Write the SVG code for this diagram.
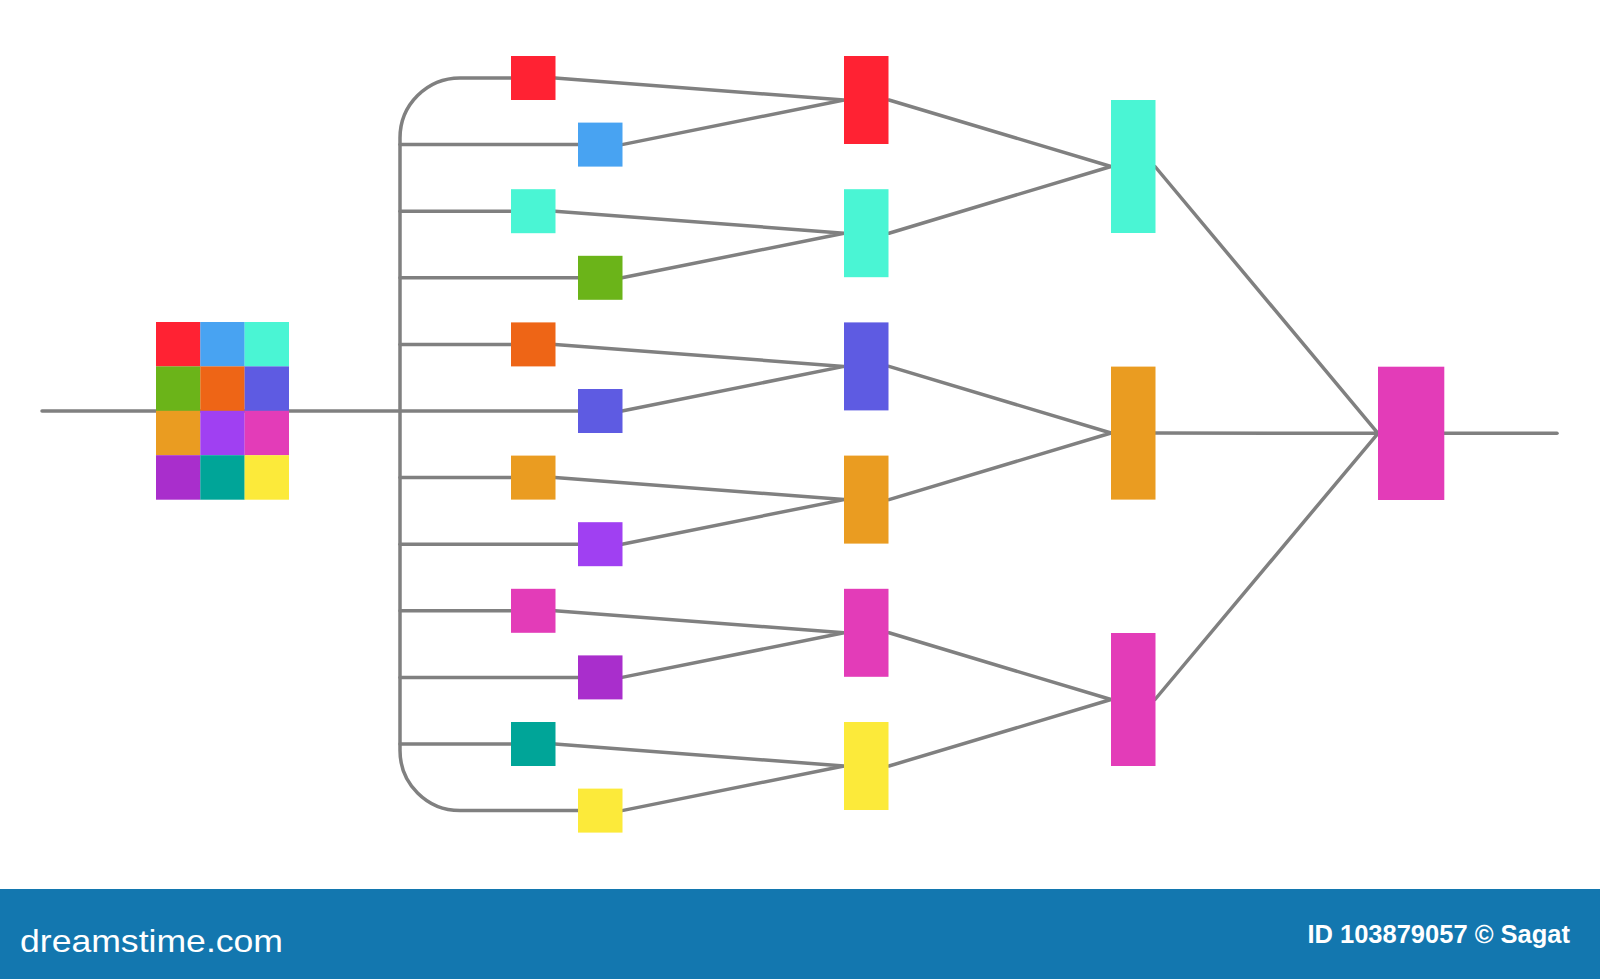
<svg xmlns="http://www.w3.org/2000/svg" width="1600" height="979" viewBox="0 0 1600 979">
<style>
.c{stroke:#808080;stroke-width:3.5;fill:none;stroke-linecap:round}
.red{fill:#FF2233}.blu{fill:#48A3F2}.cyn{fill:#4AF5D4}.grn{fill:#6BB419}.org{fill:#EE6516}.ind{fill:#5E5BE2}
.amb{fill:#EA9C21}.pur{fill:#A040F2}.mag{fill:#E33CB8}.vio{fill:#A92ECC}.tea{fill:#00A598}.yel{fill:#FCEA3A}
.ft{font-family:"Liberation Sans",Arial,sans-serif;fill:#fff}
</style>
<rect width="1600" height="979" fill="#fff"/>
<g id="connectors" class="c">
<line x1="42" y1="411" x2="578" y2="411"/>
<path d="M511 78 H460 A60 60 0 0 0 400 138 V750.6 A60 60 0 0 0 460 810.6 H578"/>
<line x1="400" y1="144.6" x2="578" y2="144.6"/>
<line x1="400" y1="211.2" x2="511" y2="211.2"/>
<line x1="400" y1="277.8" x2="578" y2="277.8"/>
<line x1="400" y1="344.4" x2="511" y2="344.4"/>
<line x1="400" y1="477.6" x2="511" y2="477.6"/>
<line x1="400" y1="544.2" x2="578" y2="544.2"/>
<line x1="400" y1="610.8" x2="511" y2="610.8"/>
<line x1="400" y1="677.4" x2="578" y2="677.4"/>
<line x1="400" y1="744" x2="511" y2="744"/>
<path d="M555 78 L844 100 M622 144.6 L844 100"/>
<path d="M555 211.2 L844 233.2 M622 277.8 L844 233.2"/>
<path d="M555 344.4 L844 366.4 M622 411 L844 366.4"/>
<path d="M555 477.6 L844 499.6 M622 544.2 L844 499.6"/>
<path d="M555 610.8 L844 632.8 M622 677.4 L844 632.8"/>
<path d="M555 744 L844 766 M622 810.6 L844 766"/>
<path d="M889 100 L1111 166.5 M889 233.2 L1111 166.5"/>
<path d="M889 366.4 L1111 433 M889 499.6 L1111 433"/>
<path d="M889 632.8 L1111 699.5 M889 766 L1111 699.5"/>
<path d="M1155 166.5 L1378 433.3 M1155 433 L1378 433.3 M1155 699.5 L1378 433.3"/>
<line x1="1444" y1="433.3" x2="1557" y2="433.3"/>
</g>
<g id="input-grid">
<rect class="red" x="156" y="322" width="44.4" height="44.5"/>
<rect class="blu" x="200.3" y="322" width="44.4" height="44.5"/>
<rect class="cyn" x="244.6" y="322" width="44.4" height="44.5"/>
<rect class="grn" x="156" y="366.4" width="44.4" height="44.5"/>
<rect class="org" x="200.3" y="366.4" width="44.4" height="44.5"/>
<rect class="ind" x="244.6" y="366.4" width="44.4" height="44.5"/>
<rect class="amb" x="156" y="410.8" width="44.4" height="44.5"/>
<rect class="pur" x="200.3" y="410.8" width="44.4" height="44.5"/>
<rect class="mag" x="244.6" y="410.8" width="44.4" height="44.5"/>
<rect class="vio" x="156" y="455.2" width="44.4" height="44.5"/>
<rect class="tea" x="200.3" y="455.2" width="44.4" height="44.5"/>
<rect class="yel" x="244.6" y="455.2" width="44.4" height="44.5"/>
</g>
<g id="s0"><rect class="red" x="511" y="56" width="44.5" height="44"/></g>
<g id="s1"><rect class="blu" x="578" y="122.6" width="44.5" height="44"/></g>
<g id="s2"><rect class="cyn" x="511" y="189.2" width="44.5" height="44"/></g>
<g id="s3"><rect class="grn" x="578" y="255.8" width="44.5" height="44"/></g>
<g id="s4"><rect class="org" x="511" y="322.4" width="44.5" height="44"/></g>
<g id="s5"><rect class="ind" x="578" y="389" width="44.5" height="44"/></g>
<g id="s6"><rect class="amb" x="511" y="455.6" width="44.5" height="44"/></g>
<g id="s7"><rect class="pur" x="578" y="522.2" width="44.5" height="44"/></g>
<g id="s8"><rect class="mag" x="511" y="588.8" width="44.5" height="44"/></g>
<g id="s9"><rect class="vio" x="578" y="655.4" width="44.5" height="44"/></g>
<g id="s10"><rect class="tea" x="511" y="722" width="44.5" height="44"/></g>
<g id="s11"><rect class="yel" x="578" y="788.6" width="44.5" height="44"/></g>
<g id="m0"><rect class="red" x="844" y="56" width="44.5" height="88"/></g>
<g id="m1"><rect class="cyn" x="844" y="189.2" width="44.5" height="88"/></g>
<g id="m2"><rect class="ind" x="844" y="322.4" width="44.5" height="88"/></g>
<g id="m3"><rect class="amb" x="844" y="455.6" width="44.5" height="88"/></g>
<g id="m4"><rect class="mag" x="844" y="588.8" width="44.5" height="88"/></g>
<g id="m5"><rect class="yel" x="844" y="722" width="44.5" height="88"/></g>
<g id="t0"><rect class="cyn" x="1111" y="100" width="44.5" height="133"/></g>
<g id="t1"><rect class="amb" x="1111" y="366.6" width="44.5" height="133"/></g>
<g id="t2"><rect class="mag" x="1111" y="633" width="44.5" height="133"/></g>
<g id="out"><rect class="mag" x="1378" y="366.7" width="66.3" height="133.3"/></g>
<g id="footer">
<rect x="0" y="889" width="1600" height="90" fill="#1377AF"/>
<text class="ft" x="20" y="952" font-size="32" textLength="263" lengthAdjust="spacingAndGlyphs">dreamstime.com</text>
<text class="ft" x="1570" y="943" font-size="25.5" font-weight="bold" text-anchor="end" font-family="Roboto,'Liberation Sans',sans-serif">ID 103879057 © Sagat</text>
</g>
</svg>
